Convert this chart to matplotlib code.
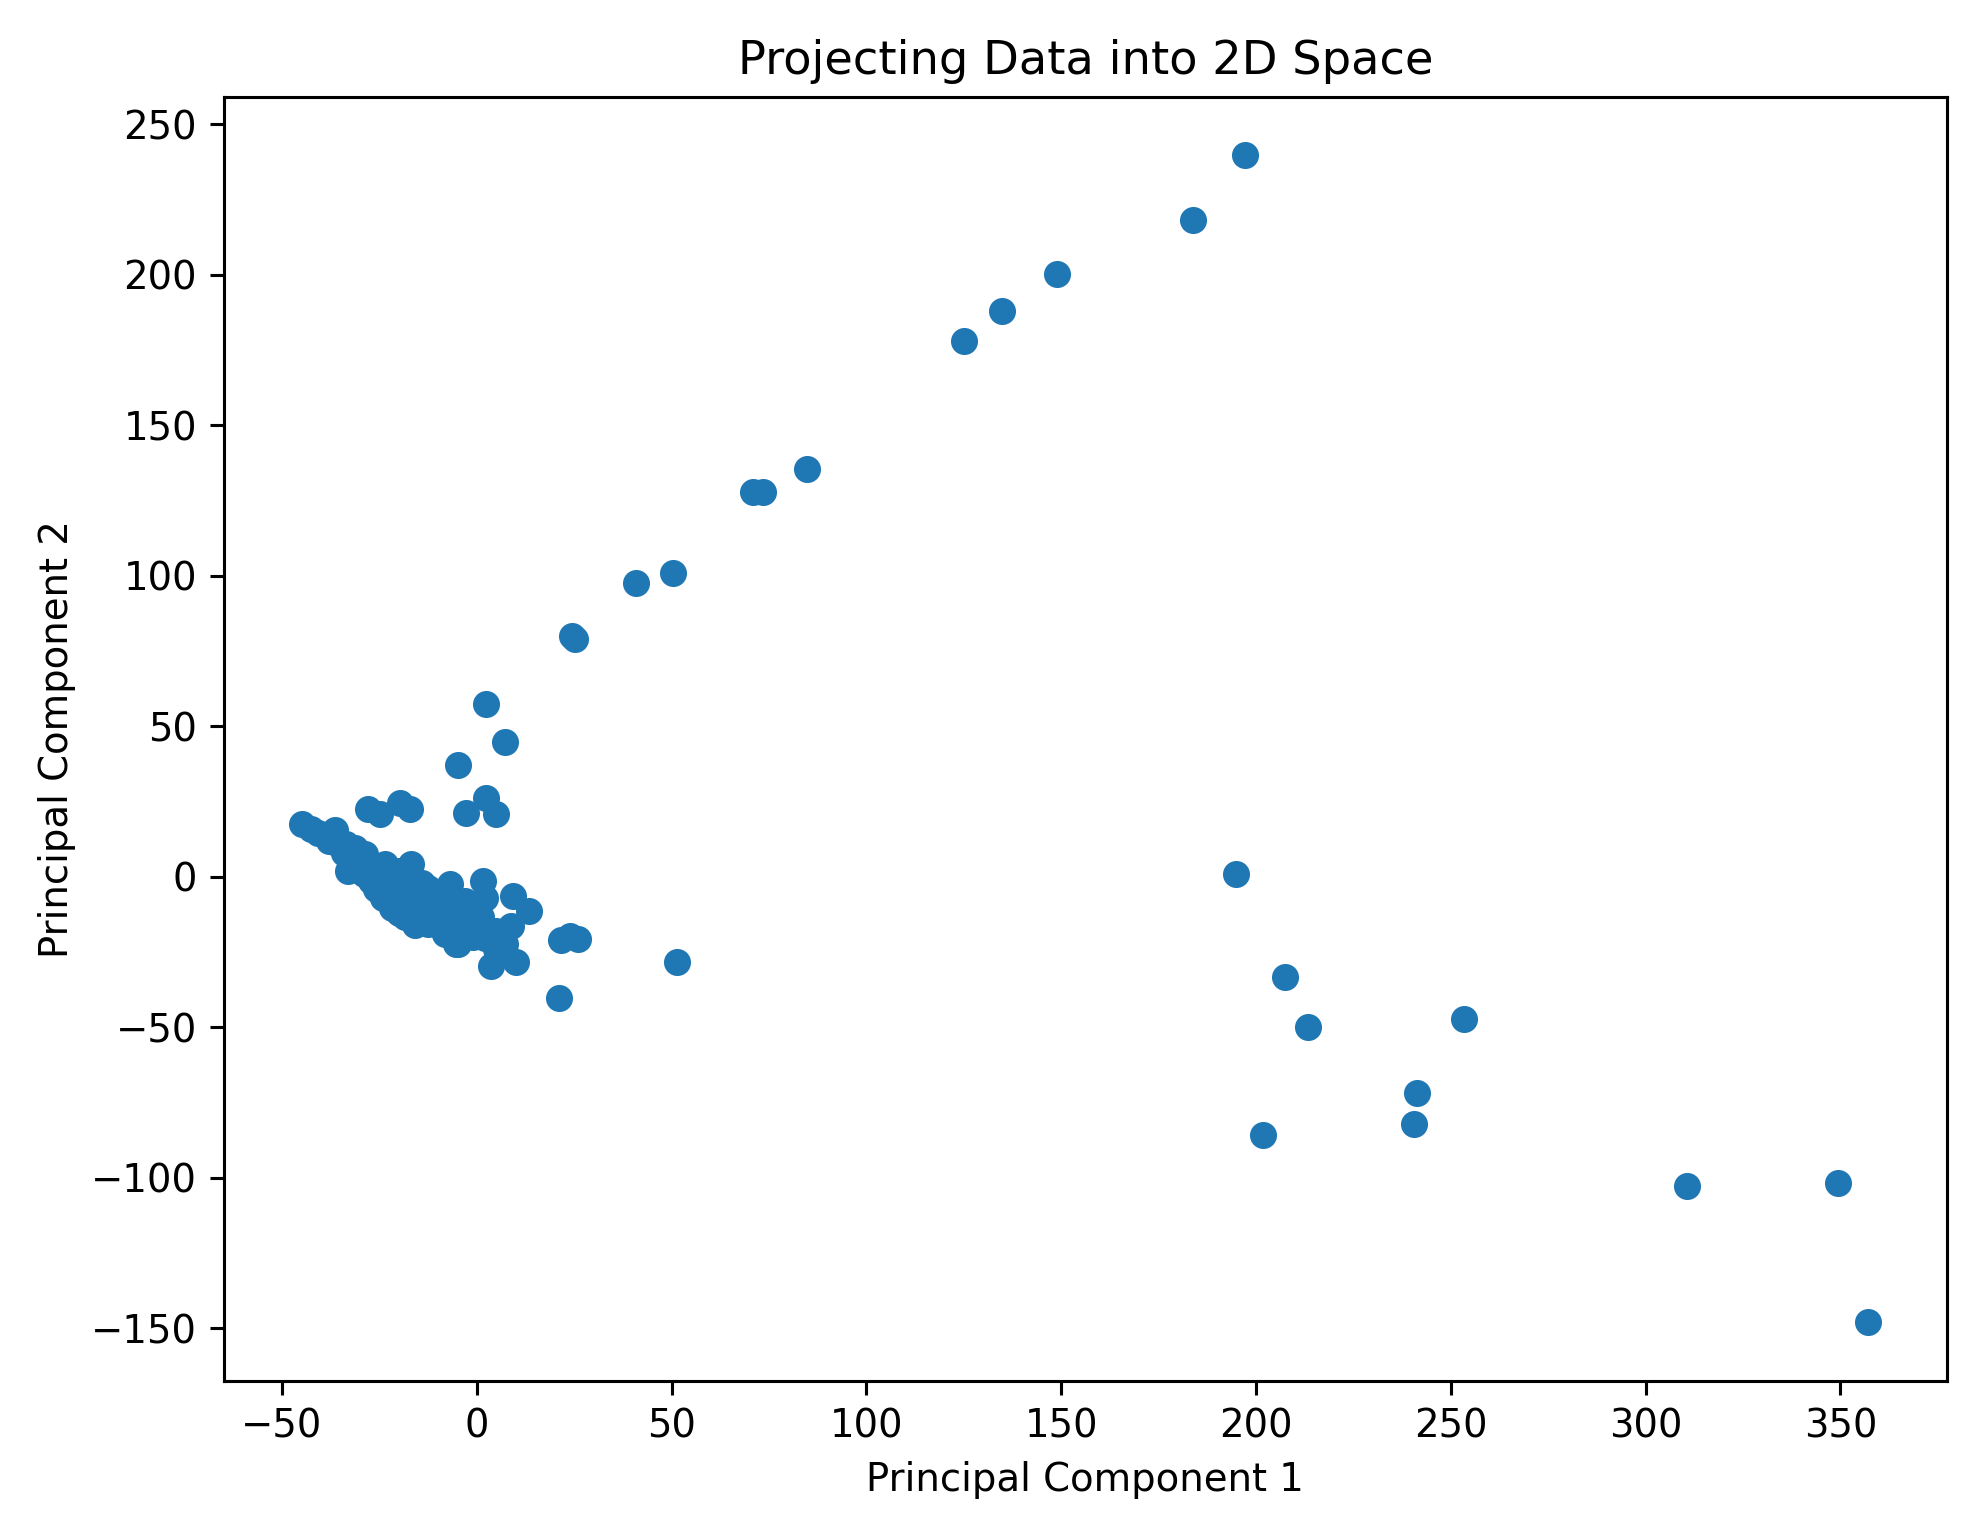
import numpy as np
import matplotlib
matplotlib.use('Agg')
import matplotlib.pyplot as plt

# outlying points along the two arms
arm_x = [197.1, 183.8, 149.0, 134.8, 125.0, 84.7, 70.8, 73.4, 50.3, 40.9,
         24.4, 25.3, 2.4, 7.2, -4.9,
         194.8, 207.5, 213.3, 253.3, 241.3, 240.6, 201.9, 310.7, 349.4, 357.2]
arm_y = [239.7, 218.2, 200.2, 187.9, 177.9, 135.4, 127.8, 127.8, 100.9, 97.5,
         79.9, 79.0, 57.4, 44.7, 37.1,
         0.8, -33.2, -50.0, -47.1, -71.9, -82.0, -85.8, -102.6, -101.8, -148.0]

# dense cluster near the origin
clu_x = [-44.8, -42.5, -40.7, -38.5, -36.4, -35.6, -33.5, -31.3, -33.0, -28.8,
         -27.1, -29.5, -23.6, -25.0, -21.9, -20.0, -16.8, -18.5, -15.1, -12.5,
         -17.7, -12.5, -7.0, -10.0, -6.6, -5.3, -8.3, -1.5, 1.5, 2.0,
         0.3, 9.2, 13.5, 8.8, 3.7, 10.1, 7.1, 2.0, -3.2, -21.9,
         -14.0, -11.0, -9.0, -4.0, -1.0, 1.1, -4.9, 5.0, -19.0, -23.0,
         -31.0, -29.0, -26.0, -24.0, -22.0, -20.0, -16.0, -14.0, -10.0, -7.0,
         -12.0, -8.0, -3.0, -5.0, 0.0, 5.0, -38.0, -32.0, -30.0, -26.0,
         -24.0, -20.0, -14.0, -34.0,
         -27.9, -24.9, -19.8, -17.2, -2.7, 2.4, 4.9,
         21.5, 24.0, 26.0, 21.1, 51.3]
clu_y = [17.6, 16.0, 14.6, 13.5, 15.7, 10.8, 11.0, 9.7, 2.0, 7.5,
         -1.4, 4.5, 4.1, 0.5, -4.7, -1.0, 4.1, -13.5, -9.1, -15.7,
         -1.4, -3.6, -2.5, -9.1, -9.1, -22.4, -19.1, -15.7, -1.4, -6.9,
         -11.3, -6.3, -11.3, -16.3, -29.5, -28.4, -22.4, -20.2, -17.9, -10.2,
         -6.0, -12.0, -5.0, -13.0, -20.0, -13.5, -22.4, -18.0, -7.0, -2.0,
         4.0, 1.0, -4.0, -7.0, -9.0, -12.0, -16.0, -14.0, -16.0, -18.0,
         -7.0, -5.0, -8.0, -14.0, -18.0, -24.0, 12.0, 7.0, 5.0, 2.0,
         -3.0, 2.0, -2.0, 8.0,
         22.4, 20.7, 24.6, 22.4, 21.3, 26.3, 20.7,
         -21.0, -19.5, -20.5, -40.3, -28.4]

pc1 = np.array(arm_x + clu_x)
pc2 = np.array(arm_y + clu_y)

fig = plt.figure(figsize=(1986 / 278, 1519 / 278), dpi=278)
ax = fig.add_axes([0.1128, 0.091, 0.8674, 0.8453])
ax.scatter(pc1, pc2)
ax.set_title('Projecting Data into 2D Space')
ax.set_xlabel('Principal Component 1')
ax.set_ylabel('Principal Component 2')

fig.savefig('out.png', dpi=278)
plt.close(fig)
